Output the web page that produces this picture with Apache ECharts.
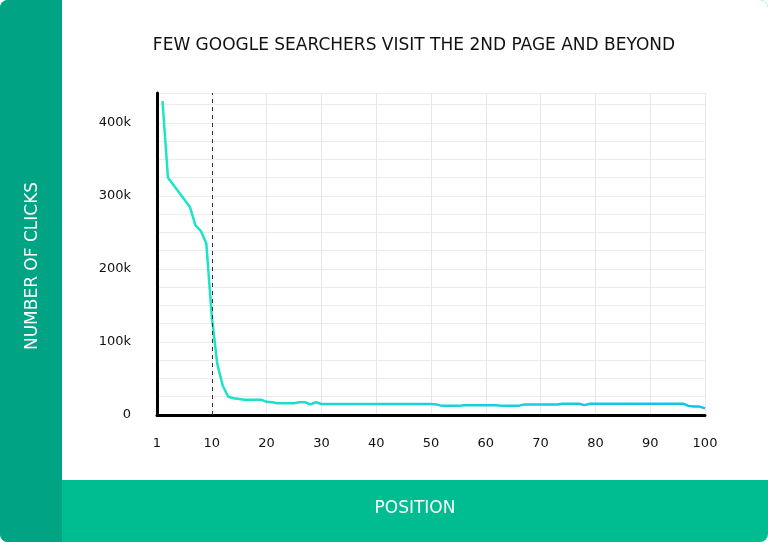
<!DOCTYPE html>
<html><head><meta charset="utf-8">
<script src="https://cdn.jsdelivr.net/npm/echarts@6/dist/echarts.min.js"></script>
<style>html,body{margin:0;padding:0;background:#fff}#c{width:768px;height:542px}</style>
</head><body><div id="c"></div>
<script>
const titleText = 'FEW GOOGLE SEARCHERS VISIT THE 2ND PAGE AND BEYOND';
const yName = 'NUMBER OF CLICKS';
const xName = 'POSITION';
const xTicks = [1,10,20,30,40,50,60,70,80,90,100];
const clicks = [
430000,325000,315000,305000,295000,285000,260000,252000,235000,135000,
70000,40000,25000,23000,22000,21000,21000,21000,21000,18000,
17500,16000,16000,16000,16000,17500,17500,14500,17500,15000,
15000,15000,15000,15000,15000,15000,15000,15000,15000,15000,
15000,15000,15000,15000,15000,15000,15000,15000,15000,15000,
14500,12500,12500,12500,12500,13500,13500,13500,13500,13500,
13500,13500,12500,12500,12500,12500,14500,14500,14500,14500,
14500,14500,14500,15500,15500,15500,15500,13500,15500,15500,
15500,15500,15500,15500,15500,15500,15500,15500,15500,15500,
15500,15500,15500,15500,15500,15500,12500,11500,11500,9000];
const pos = clicks.map((v,i)=>[i+1,v]);
const chart = echarts.init(document.getElementById('c'));
chart.setOption({
  animation:false,
  graphic:[
    {type:'rect',shape:{x:0,y:0,width:768,height:542,r:[8,8,8,8]},style:{fill:'#00bc91'},z:-10},
    {type:'rect',shape:{x:62,y:0,width:706,height:480,r:[0,8,0,0]},style:{fill:'#ffffff'},z:-9},
    {type:'rect',shape:{x:0,y:0,width:62,height:542,r:[8,0,0,8]},style:{fill:'#00a383'},z:-9},
    {type:'text',x:414,y:46,style:{text:titleText,font:'17px "DejaVu Sans"',fill:'#111',align:'center',verticalAlign:'middle'}},
    {type:'text',x:33,y:266,rotation:Math.PI/2,style:{text:yName,font:'17px "DejaVu Sans"',fill:'#fff',align:'center',verticalAlign:'middle'}},
    {type:'text',x:415,y:509,style:{text:xName,font:'17px "DejaVu Sans"',fill:'#fff',align:'center',verticalAlign:'middle'}}
  ],
  grid:{left:157,right:63,top:93,bottom:127},
  xAxis:{type:'value',min:0,max:100,interval:10,
    axisLine:{lineStyle:{color:'#000',width:3}},axisTick:{show:false},
    axisLabel:{margin:22,color:'#111',fontFamily:'DejaVu Sans',fontSize:13,
      formatter:v=>v===0?'1':String(v)},
    splitLine:{show:true,lineStyle:{color:'#e8e8e8'}}},
  yAxis:{type:'value',min:0,max:441000,interval:25000,
    axisLine:{show:true,lineStyle:{color:'#000',width:3}},axisTick:{show:false},
    axisLabel:{margin:26,color:'#111',fontFamily:'DejaVu Sans',fontSize:13,
      formatter:v=>v%100000===0?(v===0?'0':v/1000+'k'):''},
    splitLine:{lineStyle:{color:'#ececec'}}},
  series:[{type:'line',data:pos,showSymbol:false,lineStyle:{width:2.5,
    color:new echarts.graphic.LinearGradient(0,0,1,0,[{offset:0,color:'#1ee6c4'},{offset:1,color:'#14c0e8'}])},
    markLine:{silent:true,symbol:'none',label:{show:false},lineStyle:{color:'#333',type:[4,4],width:1},data:[{xAxis:10}]}}]
});
</script></body></html>
